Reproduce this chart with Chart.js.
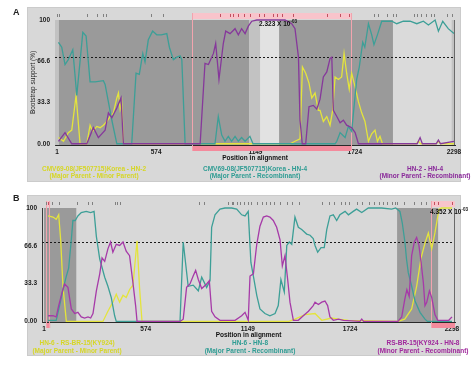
<!DOCTYPE html>
<html>
<head>
<meta charset="utf-8">
<script src="https://cdn.jsdelivr.net/npm/chart.js@4.4.1/dist/chart.umd.min.js"></script>
<style>
body{margin:0;width:474px;height:366px;background:#fff;position:relative;overflow:hidden;font-family:'Liberation Sans',Arial,sans-serif}
.panel{position:absolute;left:27px;width:434px;background:#d8d8d8;border:1px solid #cbcbcb;box-sizing:border-box}
#pa{top:7px;height:175px}
#pb{top:195px;height:161px}
canvas{position:absolute;left:0}
.tag{position:absolute;font:bold 9px 'Liberation Sans',Arial,sans-serif;color:#222}
.leg{position:absolute;width:120px;text-align:center;font-family:'Liberation Sans Narrow','Liberation Sans',sans-serif;font-size:6.5px;line-height:7px;font-weight:bold;white-space:nowrap}
.note{position:absolute;font-family:'Liberation Sans Narrow','Liberation Sans',sans-serif;font-size:6.5px;font-weight:bold;color:#111;white-space:nowrap}
.note sup{font-size:4.5px;vertical-align:3px}
</style>
</head>
<body>
<div class="panel" id="pa"></div>
<div class="panel" id="pb"></div>
<canvas id="chartA" width="474" height="190" style="top:0"></canvas>
<canvas id="chartB" width="474" height="176" style="top:190px"></canvas>

<div class="tag" style="left:13px;top:7px">A</div>
<div class="tag" style="left:13px;top:193px">B</div>
<div class="note" style="left:259px;top:19px">2.323 X 10<sup>-03</sup></div>
<div class="note" style="left:430px;top:207px">4.352 X 10<sup>-03</sup></div>

<div class="leg" style="left:34px;top:165px;color:#d6d626">CMV69-08(JF507715)Korea - HN-2<br>(Major Parent - Minor Parent)</div>
<div class="leg" style="left:195px;top:165px;color:#2e9c93">CMV69-08(JF507715)Korea - HN-4<br>(Major Parent - Recombinant)</div>
<div class="leg" style="left:365px;top:165px;color:#8a2a9a">HN-2 - HN-4<br>(Minor Parent - Recombinant)</div>

<div class="leg" style="left:17px;top:339px;line-height:8px;color:#d6d626">HN-6 - RS-BR-15(KY924)<br>(Major Parent - Minor Parent)</div>
<div class="leg" style="left:190px;top:339px;line-height:8px;color:#2e9c93">HN-6 - HN-8<br>(Major Parent - Recombinant)</div>
<div class="leg" style="left:363px;top:339px;line-height:8px;color:#a0289c">RS-BR-15(KY924 - HN-8<br>(Minor Parent - Recombinant)</div>

<script>
// x ticks and y ticks (same on both panels)
const posTicks = [1, 574, 1149, 1724, 2298];
const supportTicks = [0, 33.3, 66.6, 100];
const cutoff = 70;

// ---- panel A : [position, bootstrap %]
const aYellow = [[9,5],[38,2],[66,9],[86,11],[111,39],[134,0],[173,0],[192,15],[207,10],[231,14],[250,13],[269,15],[289,18],[308,22],[327,25],[347,37],[356,41],[366,28],[375,34],[385,0],[1349,0],[1378,2],[1407,4],[1421,62],[1440,57],[1459,49],[1475,37],[1494,41],[1513,27],[1523,27],[1542,18],[1562,22],[1581,15],[1596,27],[1610,54],[1629,52],[1648,54],[1662,73],[1677,57],[1692,44],[1706,57],[1726,46],[1745,34],[1764,25],[1783,18],[1803,2],[1822,8],[1841,11],[1855,2],[1870,6],[1884,0],[2080,0],[2093,2],[2105,0],[2195,0],[2208,2],[2220,0],[2298,0]];
const aTeal = [[9,82],[28,78],[47,64],[66,68],[92,76],[115,39],[150,90],[169,87],[192,50],[221,50],[269,51],[279,48],[318,19],[347,0],[433,0],[458,57],[477,56],[497,73],[510,66],[529,84],[554,91],[578,88],[604,88],[636,89],[651,78],[674,68],[694,70],[713,71],[723,68],[742,0],[915,0],[934,22],[954,7],[973,2],[992,6],[1011,2],[1031,6],[1050,2],[1069,5],[1089,2],[1117,6],[1135,0],[1610,0],[1620,2],[1639,9],[1668,5],[1687,14],[1706,10],[1735,52],[1750,62],[1770,82],[1782,78],[1803,97],[1822,88],[1835,80],[1855,88],[1880,99],[1907,99],[1938,99],[1967,97],[2005,99],[2044,99],[2083,97],[2121,99],[2150,96],[2189,100],[2208,91],[2233,99],[2265,93],[2298,89]];
const aPurple = [[9,2],[47,9],[86,0],[173,0],[211,13],[240,5],[279,11],[298,25],[318,21],[347,29],[371,37],[385,0],[829,0],[857,65],[877,64],[906,73],[919,81],[938,52],[963,81],[977,91],[1002,89],[1031,93],[1050,88],[1069,93],[1089,89],[1108,95],[1128,99],[1157,100],[1320,100],[1359,97],[1378,93],[1398,70],[1407,19],[1420,0],[1440,0],[1459,30],[1484,31],[1504,28],[1523,36],[1542,54],[1562,58],[1581,69],[1591,70],[1600,27],[1620,22],[1639,17],[1658,19],[1677,15],[1706,13],[1726,9],[1745,0],[2085,0],[2102,5],[2115,0],[2195,0],[2208,3],[2220,0],[2298,2]];
// shaded windows [from, to, tone]
const aShades = [[-11,12,'mid'],[12,1112,'dark'],[1112,1176,'mid'],[1176,1286,'pale'],[1286,1945,'dark'],[1945,2285,'light'],[2285,2304,'mid']];
const aWindows = [[782,1708]];
const aSites = [1,14,175,232,267,285,545,614,944,1002,1020,1048,1083,1118,1170,1199,1251,1274,1303,1367,1564,1639,1691,1836,1859,1911,1946,1963,2067,2084,2107,2136,2165,2183,2258,2287];

// ---- panel B
const bYellow = [[24,93],[52,92],[70,90],[84,94],[95,72],[108,31],[127,0],[333,0],[361,9],[389,17],[408,24],[427,17],[446,23],[464,21],[483,28],[502,32],[525,71],[539,30],[553,0],[1380,0],[1414,2],[1471,6],[1527,7],[1565,1],[1621,3],[1659,2],[1715,1],[1994,0],[2032,2],[2071,11],[2099,31],[2124,56],[2146,69],[2165,78],[2184,64],[2202,78],[2225,99],[2240,100],[2298,100]];
const bTeal = [[24,1],[70,1],[89,14],[108,28],[127,40],[140,47],[155,72],[164,89],[177,89],[192,93],[211,96],[239,97],[264,96],[283,97],[296,75],[315,55],[343,39],[361,31],[380,21],[399,5],[408,0],[767,0],[785,70],[813,31],[841,32],[870,27],[889,39],[917,30],[936,36],[945,83],[964,94],[992,99],[1020,100],[1058,100],[1086,99],[1114,94],[1133,93],[1151,97],[1166,52],[1180,40],[1199,23],[1217,11],[1245,7],[1273,5],[1302,7],[1320,14],[1335,37],[1354,26],[1368,67],[1382,70],[1396,68],[1414,92],[1433,83],[1452,81],[1480,77],[1499,76],[1517,73],[1527,67],[1542,61],[1561,65],[1579,65],[1593,81],[1611,93],[1630,94],[1649,89],[1667,94],[1696,97],[1715,94],[1742,97],[1761,99],[1790,96],[1827,100],[1902,100],[1959,99],[1981,100],[2005,97],[2018,87],[2033,70],[2042,55],[2052,43],[2071,31],[2090,18],[2118,8],[2146,2],[2160,0],[2298,0]];
const bPurple = [[24,5],[52,5],[70,4],[84,14],[102,25],[117,33],[136,30],[155,11],[174,7],[192,8],[211,4],[230,3],[249,4],[264,3],[277,7],[296,27],[315,42],[328,56],[343,53],[361,64],[376,70],[389,61],[408,68],[427,67],[446,70],[464,62],[483,58],[502,34],[517,14],[525,0],[767,0],[785,2],[804,30],[823,33],[841,40],[855,45],[870,37],[889,29],[917,33],[932,36],[945,9],[964,4],[992,1],[1077,1],[1114,5],[1133,8],[1151,1],[1161,40],[1180,42],[1199,68],[1217,84],[1236,92],[1255,93],[1273,92],[1292,89],[1311,83],[1330,72],[1343,49],[1358,58],[1373,37],[1386,17],[1405,1],[1433,1],[1461,5],[1490,9],[1517,14],[1527,17],[1546,15],[1565,17],[1583,18],[1598,14],[1611,4],[1630,1],[1659,2],[1687,1],[1780,0],[1790,2],[1800,0],[1994,0],[2015,4],[2033,20],[2044,28],[2057,22],[2071,58],[2086,70],[2099,74],[2112,67],[2124,52],[2137,34],[2146,14],[2156,17],[2171,27],[2184,21],[2202,6],[2218,1],[2280,1],[2298,4]];
const bShades = [[1,183,'dark'],[1989,2220,'dark']];
const bWindows = [[14,36],[2180,2315]];
const bSites = [11,22,48,87,187,249,271,401,412,429,874,902,1037,1060,1065,1088,1105,1128,1150,1167,1200,1228,1251,1273,1296,1330,1369,1397,1437,1566,1606,1634,1673,1696,1718,1763,1791,1831,1859,1887,1910,1932,1960,1977,1989,2028,2084,2124,2152,2197,2220,2298];

const tones = {dark: '#9a9a9a', mid: '#c2c2c2', pale: '#e2e2e2', light: '#dadada'};

const decor = {
    id: 'decor',
    beforeDatasetsDraw(chart, args, opts) {
        const {ctx, chartArea: ca, scales: {x, y}} = chart;
        ctx.save();
        opts.shades.forEach(([a, b, t]) => {
            const x0 = Math.max(x.getPixelForValue(a), ca.left);
            const x1 = Math.min(x.getPixelForValue(b), ca.right);
            ctx.fillStyle = tones[t];
            ctx.fillRect(x0, ca.top, x1 - x0, ca.bottom - ca.top);
        });
        // recombination windows (pink)
        opts.windows.forEach(([a, b]) => {
            const x0 = Math.max(x.getPixelForValue(a), ca.left);
            const x1 = Math.min(x.getPixelForValue(b), ca.right);
            ctx.fillStyle = '#f8c4cb';
            ctx.fillRect(x0, ca.top - 7, x1 - x0, 6);
            ctx.fillStyle = '#f48a9c';
            ctx.fillRect(x0, ca.bottom + 1, x1 - x0, 5);
            ctx.strokeStyle = '#f2a4ae';
            ctx.lineWidth = 1;
            ctx.beginPath();
            ctx.moveTo(Math.round(x0) + 0.5, ca.top - 7);
            ctx.lineTo(Math.round(x0) + 0.5, ca.bottom + 6);
            if (b < x.max) {
                ctx.moveTo(Math.round(x1) - 0.5, ca.top - 7);
                ctx.lineTo(Math.round(x1) - 0.5, ca.bottom + 6);
            }
            ctx.stroke();
        });
        // 70% cut-off
        const yc = Math.round(y.getPixelForValue(cutoff)) + 0.5;
        ctx.setLineDash([2, 2]);
        ctx.strokeStyle = '#1a1a1a';
        ctx.lineWidth = 1;
        ctx.beginPath();
        ctx.moveTo(ca.left, yc);
        ctx.lineTo(ca.right, yc);
        ctx.stroke();
        ctx.restore();
    },
    afterDraw(chart, args, opts) {
        const {ctx, chartArea: ca, scales: {x}} = chart;
        ctx.save();
        ctx.lineWidth = 1;
        // informative sites along the top
        opts.sites.forEach(p => {
            const inWin = opts.windows.some(([a, b]) => p >= a && p <= b);
            const px = Math.round(x.getPixelForValue(p)) + 0.5;
            ctx.strokeStyle = inWin ? '#c25060' : '#808080';
            ctx.beginPath();
            ctx.moveTo(px, ca.top - 6);
            ctx.lineTo(px, ca.top - 3);
            ctx.stroke();
        });
        ctx.strokeStyle = '#6a6a6a';
        ctx.beginPath();
        ctx.moveTo(Math.round(ca.right) - 0.5, ca.top);
        ctx.lineTo(Math.round(ca.right) - 0.5, ca.bottom);
        ctx.stroke();
        ctx.restore();
    }
};

function toPoints(rows) {
    return rows.map(([p, v]) => ({x: p, y: v}));
}

const tickFont = {family: "'Liberation Sans Narrow', 'Liberation Sans', sans-serif", size: 6.5, weight: 'bold'};

function drawPanel(id, cfg) {
    const line = (rows, color) => ({
        data: toPoints(rows), borderColor: color, borderWidth: 1.3,
        pointRadius: 0, tension: 0, clip: false, fill: false
    });
    return new Chart(document.getElementById(id), {
        type: 'line',
        data: {
            datasets: [
                line(cfg.purple, cfg.purpleColor),
                line(cfg.teal, '#3d9f97'),
                line(cfg.yellow, '#e4e43c')
            ]
        },
        plugins: [decor],
        options: {
            responsive: false,
            animation: false,
            layout: {padding: cfg.padding},
            plugins: {
                legend: {display: false},
                tooltip: {enabled: false},
                decor: {shades: cfg.shades, windows: cfg.windows, sites: cfg.sites}
            },
            scales: {
                x: {
                    type: 'linear', min: cfg.xmin, max: cfg.xmax,
                    grid: {display: false, drawTicks: false, tickLength: 0},
                    border: {display: true, color: '#2a2a2a', width: 1},
                    afterBuildTicks: s => { s.ticks = posTicks.map(v => ({value: v})); },
                    afterFit: s => { s.height = 22; },
                    ticks: {autoSkip: false, maxRotation: 0, padding: 3, color: '#1a1a1a', font: tickFont, callback: v => String(v)},
                    title: {display: true, text: 'Position in alignment', color: '#111', padding: {top: 0, bottom: 5},
                        font: {family: "'Liberation Sans Narrow', 'Liberation Sans', sans-serif", size: 6.5, weight: 'bold'}}
                },
                y: {
                    min: cfg.ymin, max: 100,
                    grid: {display: false, drawTicks: false, tickLength: 0},
                    border: {display: true, color: '#3a3a3a', width: 1},
                    afterBuildTicks: s => { s.ticks = supportTicks.map(v => ({value: v})); },
                    afterFit: s => { s.width = cfg.yWidth; },
                    ticks: {padding: 5, color: '#1a1a1a', font: tickFont, callback: v => (v === 0 ? '0.00' : String(v))},
                    title: {display: cfg.yTitle, text: 'Bootstrap support (%)', color: '#222', padding: 0,
                        font: {family: "'Liberation Sans', Arial, sans-serif", size: 6.5}}
                }
            }
        }
    });
}

drawPanel('chartA', {
    yellow: aYellow, teal: aTeal, purple: aPurple, purpleColor: '#86389b',
    shades: aShades, windows: aWindows, sites: aSites,
    xmin: -11, xmax: 2304, ymin: -1, yWidth: 26, yTitle: true,
    padding: {left: 29, top: 20, right: 19, bottom: 23}
});

drawPanel('chartB', {
    yellow: bYellow, teal: bTeal, purple: bPurple, purpleColor: '#a63aa8',
    shades: bShades, windows: bWindows, sites: bSites,
    xmin: -10, xmax: 2315, ymin: -0.5, yWidth: 21, yTitle: false,
    padding: {left: 21, top: 18, right: 19, bottom: 22}
});
</script>
</body>
</html>
